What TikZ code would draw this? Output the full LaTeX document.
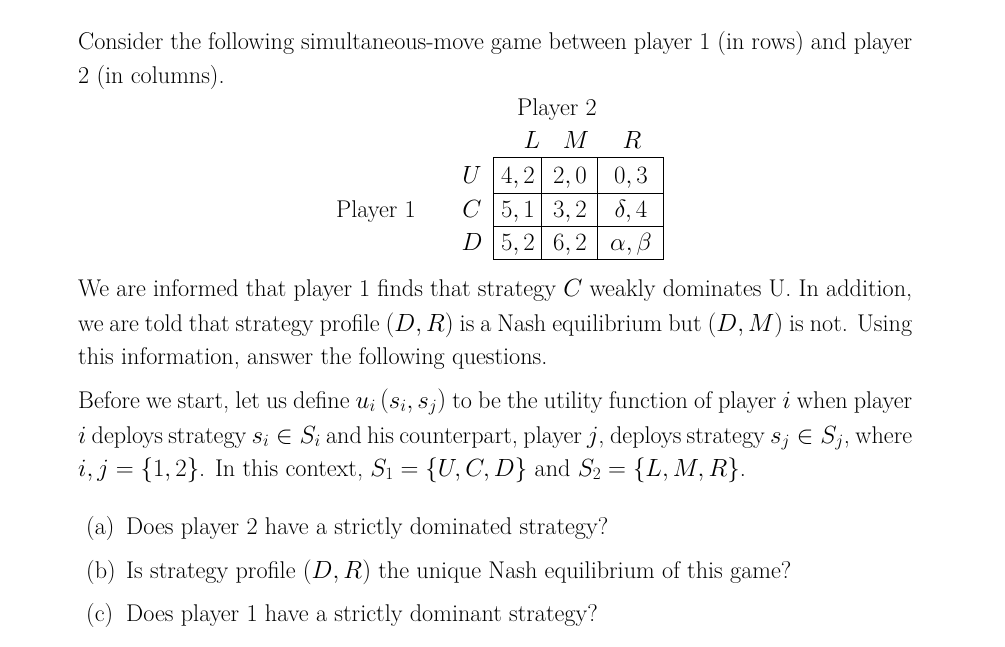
\documentclass[tikz,border=0pt]{standalone}
\begin{document}
\begin{tikzpicture}[x=1pt,y=-1pt,
  txt/.style={anchor=base west,inner sep=0pt,font=\fontsize{24.2}{34}\selectfont},
  ctr/.style={anchor=base,inner sep=0pt,font=\fontsize{24.2}{34}\selectfont}]
\useasboundingbox (0,0) rectangle (1005,647);
\newcommand{\jl}[1]{\makebox[834pt][s]{#1}}
\node[txt] (p1) at (78,50) {\jl{Consider the following simultaneous-move game between player 1 (in rows) and player}};
\node[txt] (p2) at (78,84) {2 (in columns).};
\node[ctr] (pl2) at (557,116) {Player 2};
\node[ctr] (cL) at (532,149) {$L$};
\node[ctr] (cM) at (576,149) {$M$};
\node[ctr] (cR) at (632,149) {$R$};
\draw[line width=1pt] (493,158) rectangle (663,260);
\draw[line width=1pt] (493,194) -- (663,194) (493,227) -- (663,227) (541,158) -- (541,260) (597,158) -- (597,260);
\node[ctr] (rU) at (472,184) {$U$};
\node[ctr] (rC) at (472,218) {$C$};
\node[ctr] (rD) at (472,251) {$D$};
\node[ctr] (pl1) at (376,218) {Player 1};
\node[ctr] (a11) at (518,184) {$4,2$};
\node[ctr] (a12) at (570,184) {$2,0$};
\node[ctr] (a13) at (631,184) {$0,3$};
\node[ctr] (a21) at (518,218) {$5,1$};
\node[ctr] (a22) at (570,218) {$3,2$};
\node[ctr] (a23) at (631,218) {$\delta,4$};
\node[ctr] (a31) at (518,251) {$5,2$};
\node[ctr] (a32) at (570,251) {$6,2$};
\node[ctr] (a33) at (631,251) {$\alpha,\beta$};
\node[txt] (q1) at (78,297) {\jl{We are informed that player 1 finds that strategy $C$ weakly dominates U. In addition,}};
\node[txt] (q2) at (78,331) {\jl{we are told that strategy profile $(D,R)$ is a Nash equilibrium but $(D,M)$ is not. Using}};
\node[txt] (q3) at (78,364) {this information, answer the following questions.};
\node[txt] (r1) at (78,408) {\jl{Before we start, let us define $u_i\left(s_i,s_j\right)$ to be the utility function of player $i$ when player}};
\node[txt] (r2) at (78,443) {\jl{$i$ deploys strategy $s_i\in S_i$ and his counterpart, player $j$, deploys strategy $s_j\in S_j$, where}};
\node[txt] (r3) at (78,476) {$i,j=\{1,2\}$. In this context, $S_1=\{U,C,D\}$ and $S_2=\{L,M,R\}$.};
\node[txt] (la) at (86,534) {(a)};
\node[txt] (ta) at (126,534) {Does player 2 have a strictly dominated strategy?};
\node[txt] (lb) at (86,578) {(b)};
\node[txt] (tb) at (126,578) {Is strategy profile $(D,R)$ the unique Nash equilibrium of this game?};
\node[txt] (lc) at (86,621) {(c)};
\node[txt] (tc) at (126,621) {Does player 1 have a strictly dominant strategy?};
\end{tikzpicture}
\end{document}
